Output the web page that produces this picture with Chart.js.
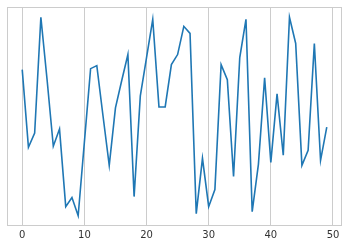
<!DOCTYPE html>
<html>
<head>
<meta charset="utf-8">
<script src="https://cdn.jsdelivr.net/npm/chart.js@4"></script>
<style>
  html, body { margin: 0; padding: 0; background: #fff; }
  #wrap { width: 349px; height: 245px; }
</style>
</head>
<body>
<div id="wrap"><canvas id="chart"></canvas></div>
<script>
const xs = Array.from({ length: 50 }, (_, i) => i);
const values = [
  1.55, 0.78, 0.92, 2.07, 1.45, 0.79, 0.96, 0.19, 0.28, 0.10,
  0.83, 1.56, 1.59, 1.09, 0.60, 1.17, 1.44, 1.70, 0.29, 1.29,
  1.67, 2.05, 1.18, 1.18, 1.60, 1.70, 1.98, 1.91, 0.12, 0.67,
  0.19, 0.36, 1.60, 1.45, 0.49, 1.67, 2.05, 0.14, 0.61, 1.47,
  0.63, 1.31, 0.70, 2.07, 1.81, 0.60, 0.75, 1.81, 0.65, 0.98
];
const xTicks = [0, 10, 20, 30, 40, 50];

const frame = {
  id: "frame",
  afterDraw(chart) {
    const { ctx, chartArea: a } = chart;
    ctx.save();
    ctx.strokeStyle = "#cccccc";
    ctx.lineWidth = 1;
    ctx.strokeRect(a.left + 0.5, a.top + 0.5, a.right - a.left - 1, a.bottom - a.top - 1);
    ctx.restore();
  }
};

new Chart(document.getElementById("chart"), {
  type: "line",
  data: {
    datasets: [{
      data: xs.map((x, i) => ({ x, y: values[i] })),
      borderColor: "#1f77b4",
      borderWidth: 1.6,
      tension: 0,
      pointRadius: 0
    }]
  },
  options: {
    responsive: true,
    maintainAspectRatio: false,
    animation: false,
    layout: { padding: { left: 7, right: 7, top: 7, bottom: 1 } },
    plugins: { legend: { display: false }, tooltip: { enabled: false } },
    scales: {
      x: {
        type: "linear",
        min: -2.45,
        max: 51.45,
        afterBuildTicks: s => { s.ticks = xTicks.map(v => ({ value: v })); },
        ticks: {
          color: "#333333",
          font: { family: "DejaVu Sans", size: 10 },
          padding: 3,
          maxRotation: 0
        },
        grid: { color: "#cccccc", lineWidth: 1, drawTicks: false },
        border: { display: false }
      },
      y: {
        display: false,
        min: -0.002,
        max: 2.172
      }
    }
  },
  plugins: [frame]
});
</script>
</body>
</html>
